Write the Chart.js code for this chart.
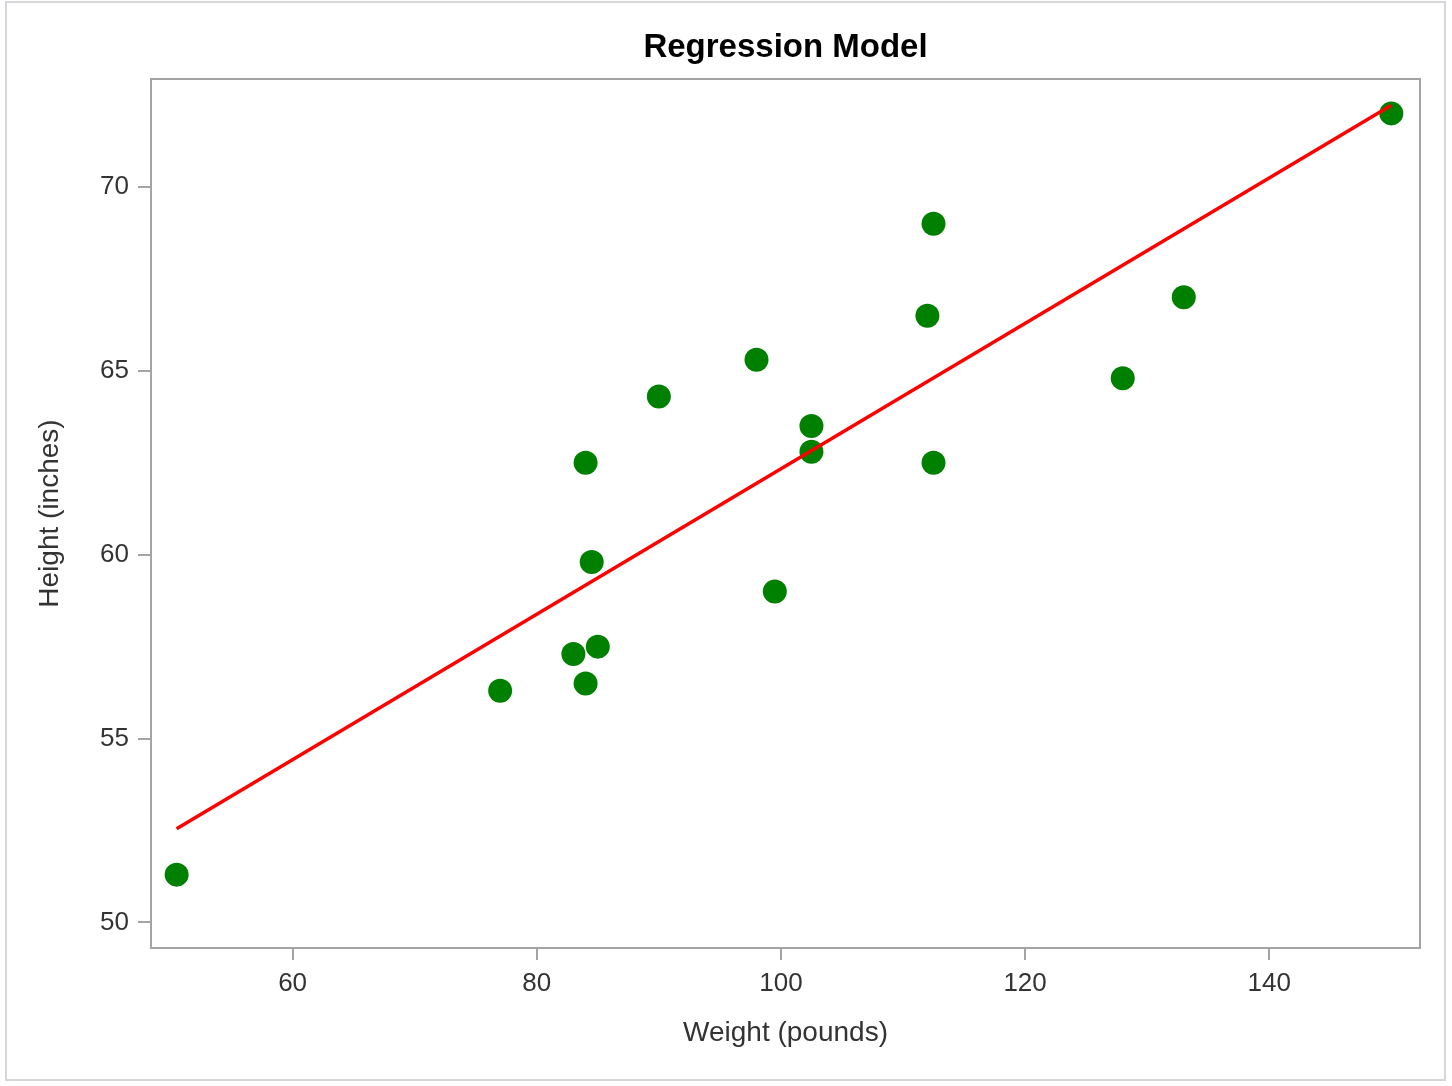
<!DOCTYPE html>
<html>
<head>
<meta charset="utf-8">
<script src="https://cdn.jsdelivr.net/npm/chart.js@4/dist/chart.umd.min.js"></script>
<style>
  body { margin: 0; background: #fff; }
  #frame { position: absolute; left: 5px; top: 1px; width: 1437px; height: 1076px; border: 2px solid #d6d6de; }
  #plot { position: absolute; left: 0; top: 0; }
</style>
</head>
<body>
<div id="frame"></div>
<canvas id="plot" width="1452" height="1086"></canvas>
<script>
// sashelp.class style data
let weight = [50.5, 77.0, 83.0, 84.0, 85.0, 84.5, 84.0, 90.0, 98.0, 99.5, 102.5, 102.5, 112.0, 112.5, 112.5, 128.0, 133.0, 150.0];
let height = [51.3, 56.3, 57.3, 56.5, 57.5, 59.8, 62.5, 64.3, 65.3, 59.0, 63.5, 62.8, 66.5, 69.0, 62.5, 64.8, 67.0, 72.0];

// fitted line ends
let fitWeight = [50.5, 150.0];
let fitHeight = [52.55, 72.22];

let xTicks = [60, 80, 100, 120, 140];
let yTicks = [50, 55, 60, 65, 70];

var FONT = "'Liberation Sans', Arial, sans-serif";

var points = weight.map(function (w, i) { return { x: w, y: height[i] }; });
var fit = fitWeight.map(function (w, i) { return { x: w, y: fitHeight[i] }; });

// ! frame round the plot area + the title
var framePlugin = {
  id: 'frame',
  beforeDatasetsDraw: function (chart) {
    var a = chart.chartArea;
    var ctx = chart.ctx;
    ctx.save();
    ctx.strokeStyle = '#a4a4a4';
    ctx.lineWidth = 2;
    ctx.strokeRect(a.left, a.top, a.right - a.left, a.bottom - a.top);
    ctx.restore();
  },
  afterDraw: function (chart) {
    var a = chart.chartArea;
    var ctx = chart.ctx;
    ctx.save();
    ctx.fillStyle = '#000';
    ctx.font = 'bold 33px ' + FONT;
    ctx.textAlign = 'center';
    ctx.textBaseline = 'alphabetic';
    ctx.fillText('Regression Model', (a.left + a.right) / 2, 57);
    ctx.restore();
  }
};

new Chart(document.getElementById('plot'), {
  type: 'scatter',
  data: {
    datasets: [
      {
        type: 'line',
        data: fit,
        borderColor: '#ff0000',
        borderWidth: 3.5,
        pointRadius: 0,
        fill: false,
        order: 0
      },
      {
        data: points,
        backgroundColor: '#008000',
        borderWidth: 0,
        pointRadius: 12,
        pointHoverRadius: 12,
        order: 1
      }
    ]
  },
  options: {
    responsive: false,
    animation: false,
    layout: { padding: { top: 79, right: 32, left: 0, bottom: 0 } },
    plugins: {
      legend: { display: false },
      tooltip: { enabled: false }
    },
    scales: {
      x: {
        type: 'linear',
        min: 48.4,
        max: 152.35,
        afterBuildTicks: function (s) { s.ticks = xTicks.map(function (v) { return { value: v }; }); },
        afterFit: function (s) { s.height = 138; },
        grid: { drawOnChartArea: false, drawTicks: true, tickLength: 12, color: '#a4a4a4', lineWidth: 2 },
        border: { display: false },
        ticks: { padding: 8, color: '#333', font: { family: FONT, size: 26 } },
        title: {
          display: true,
          text: 'Weight (pounds)',
          color: '#333',
          font: { family: FONT, size: 28, lineHeight: 1.2 },
          padding: { top: 0, bottom: 36 }
        }
      },
      y: {
        type: 'linear',
        min: 49.305,
        max: 72.935,
        afterBuildTicks: function (s) { s.ticks = yTicks.map(function (v) { return { value: v }; }); },
        afterFit: function (s) { s.width = 151; },
        grid: { drawOnChartArea: false, drawTicks: true, tickLength: 13, color: '#a4a4a4', lineWidth: 2 },
        border: { display: false },
        ticks: { padding: 9, color: '#333', font: { family: FONT, size: 26 } },
        title: {
          display: true,
          text: 'Height (inches)',
          color: '#333',
          font: { family: FONT, size: 28, lineHeight: 1.2 },
          padding: { top: 33, bottom: 0 }
        }
      }
    }
  },
  plugins: [framePlugin]
});
</script>
</body>
</html>
